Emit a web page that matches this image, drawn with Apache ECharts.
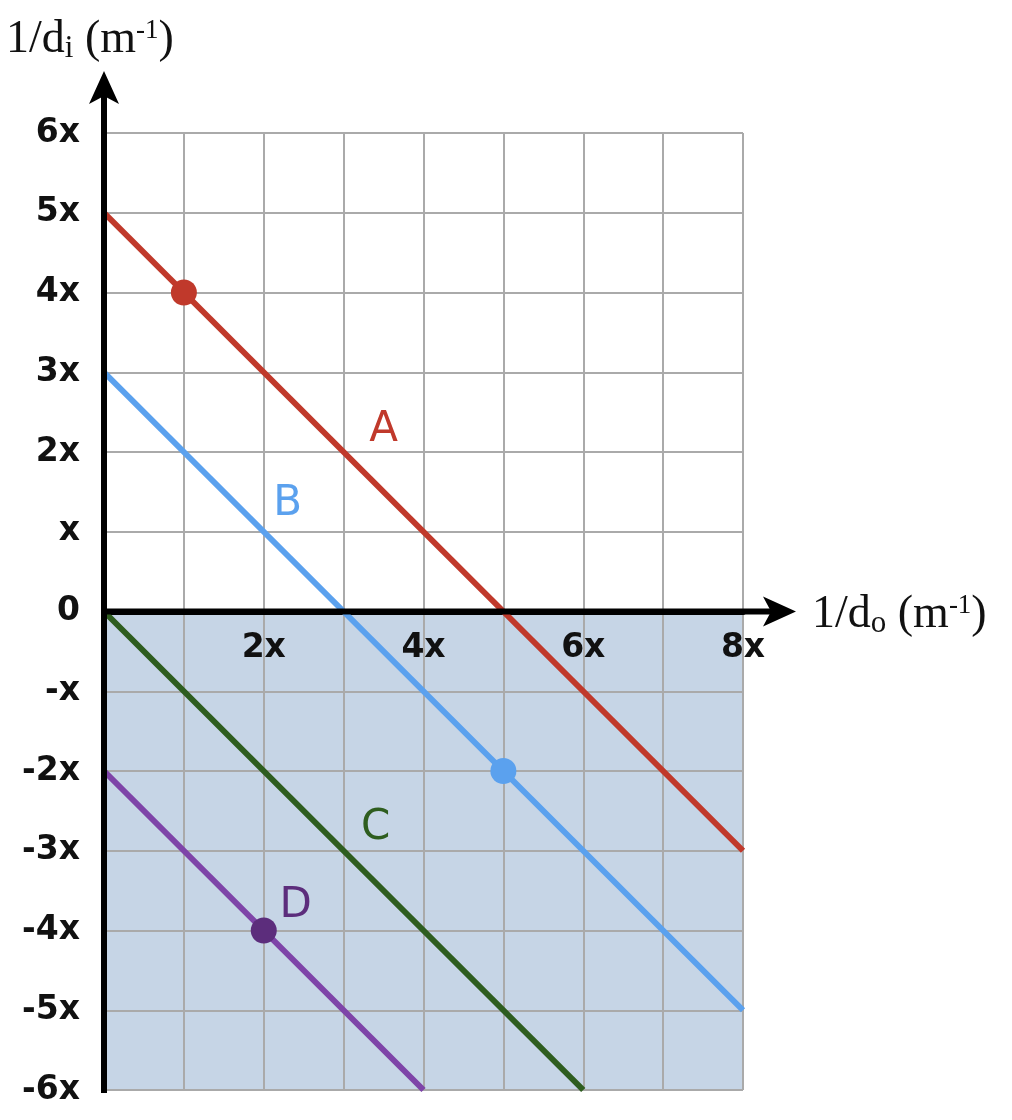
<!DOCTYPE html>
<html>
<head>
<meta charset="utf-8">
<script src="https://cdn.jsdelivr.net/npm/echarts@6/dist/echarts.min.js"></script>
<style>html,body{margin:0;padding:0;background:#fff;}</style>
</head>
<body>
<div id="main" style="width:1012px;height:1120px;"></div>
<script>
// lines (1/do, 1/di) endpoints
var lineA = [[0, 5], [8, -3]];
var lineB = [[0, 3], [8, -5]];
var lineC = [[0, 0], [6, -6]];
var lineD = [[0, -2], [4, -6]];
// marked points
var pointA = [[1, 4]];
var pointB = [[5, -2]];
var pointD = [[2, -4]];
// letter labels: [text, x, y]
var letters = [['A', 3.5, 2.28], ['B', 2.3, 1.35], ['C', 3.4, -2.72], ['D', 2.4, -3.7]];
// tick labels
var xLabels = ['', '', '2x', '', '4x', '', '6x', '', '8x'];
var yLabels = ['-6x', '-5x', '-4x', '-3x', '-2x', '-x', '0', 'x', '2x', '3x', '4x', '5x', '6x'];

var colorA = '#c0392b', colorB = '#5ba1ee', colorC = '#2e5d1f', colorD = '#7e44a8', colorDdot = '#5c2d7c';
var letterColors = [colorA, colorB, colorC, colorDdot];
var shade = '#c6d5e6';
var tickFont = { fontFamily: 'DejaVu Sans', fontWeight: 'bold', fontSize: 33, color: '#111' };
var gridH = 957;

var chart = echarts.init(document.getElementById('main'));

// shaded bands below zero, white above
var bandColors = [];
for (var i = 0; i < 12; i++) bandColors.push(i < 6 ? shade : 'rgba(255,255,255,0)');

function lineSeries(data, color) {
  return { type: 'line', data: data, symbol: 'none', silent: true, z: 3,
           lineStyle: { color: color, width: 6 } };
}
function dotSeries(data, color) {
  return { type: 'scatter', data: data, symbolSize: 26, z: 4, itemStyle: { color: color, opacity: 1 } };
}

chart.setOption({
  animation: false,
  backgroundColor: '#fff',
  grid: { left: 104, top: 133, width: 639, height: gridH, outerBoundsMode: 'none' },
  xAxis: {
    type: 'value', min: 0, max: 8, interval: 1,
    // moved up from the bottom edge to sit on y = 0 (middle of the -6..6 range)
    offset: -gridH / 2,
    axisLine: { show: true, onZero: false, lineStyle: { color: '#000', width: 6 } },
    axisTick: { show: false },
    axisLabel: Object.assign({ margin: 20, formatter: function (v) { return xLabels[v] || ''; } }, tickFont),
    splitLine: { show: true, lineStyle: { color: '#aaaaaa', width: 2 } }
  },
  yAxis: {
    type: 'value', min: -6, max: 6, interval: 1,
    axisLine: { show: true, onZero: true, lineStyle: { color: '#000', width: 6 } },
    axisTick: { show: false },
    axisLabel: Object.assign({ margin: 24, formatter: function (v) { return yLabels[v + 6]; } }, tickFont),
    splitLine: { show: true, lineStyle: { color: '#aaaaaa', width: 2 } },
    splitArea: { show: true, areaStyle: { color: bandColors } }
  },
  series: [
    lineSeries(lineA, colorA),
    lineSeries(lineB, colorB),
    lineSeries(lineC, colorC),
    lineSeries(lineD, colorD),
    dotSeries(pointA, colorA),
    dotSeries(pointB, colorB),
    dotSeries(pointD, colorDdot),
    {
      type: 'scatter', symbolSize: 1, z: 5, silent: true,
      itemStyle: { color: 'rgba(0,0,0,0)', opacity: 1 },
      data: letters.map(function (l, i) {
        return { value: [l[1], l[2], l[0]], label: { color: letterColors[i] } };
      }),
      label: {
        show: true, position: 'inside', fontFamily: 'DejaVu Sans', fontSize: 42,
        formatter: function (p) { return p.value[2]; }
      }
    }
  ]
});

// axis extensions with arrows + titles, positioned from the chart's own coordinate system
var pO = chart.convertToPixel({ gridIndex: 0 }, [0, 0]);
var pTop = chart.convertToPixel({ gridIndex: 0 }, [0, 6]);
var pBot = chart.convertToPixel({ gridIndex: 0 }, [0, -6]);
var pRight = chart.convertToPixel({ gridIndex: 0 }, [8, 0]);
var ax = pO[0], ay = pO[1];
var yTip = pTop[1] - 62, xTip = pRight[0] + 53;
var rich = {
  n: { fontFamily: 'Liberation Serif', fontSize: 46, fill: '#111' },
  s: { fontFamily: 'Liberation Serif', fontSize: 31, fill: '#111', padding: [18, 0, 0, 0] },
  p: { fontFamily: 'Liberation Serif', fontSize: 27, fill: '#111', padding: [0, 0, 18, 0] }
};
chart.setOption({
  graphic: [
    { type: 'line', z: 10, shape: { x1: ax, y1: pBot[1] + 3, x2: ax, y2: yTip + 20 },
      style: { stroke: '#000', lineWidth: 6 } },
    { type: 'polygon', z: 10, shape: { points: [[ax, yTip], [ax + 15, yTip + 33], [ax, yTip + 25], [ax - 15, yTip + 33]] },
      style: { fill: '#000' } },
    { type: 'line', z: 10, shape: { x1: ax - 3, y1: ay, x2: xTip - 20, y2: ay },
      style: { stroke: '#000', lineWidth: 6 } },
    { type: 'polygon', z: 10, shape: { points: [[xTip, ay], [xTip - 33, ay + 15], [xTip - 25, ay], [xTip - 33, ay - 15]] },
      style: { fill: '#000' } },
    { type: 'text', z: 10, x: 6, y: 40,
      style: { text: '{n|1/d}{s|i}{n| (m}{p|-1}{n|)}', rich: rich, verticalAlign: 'middle' } },
    { type: 'text', z: 10, x: xTip + 16, y: ay + 3,
      style: { text: '{n|1/d}{s|o}{n| (m}{p|-1}{n|)}', rich: rich, verticalAlign: 'middle' } }
  ]
});
</script>
</body>
</html>
